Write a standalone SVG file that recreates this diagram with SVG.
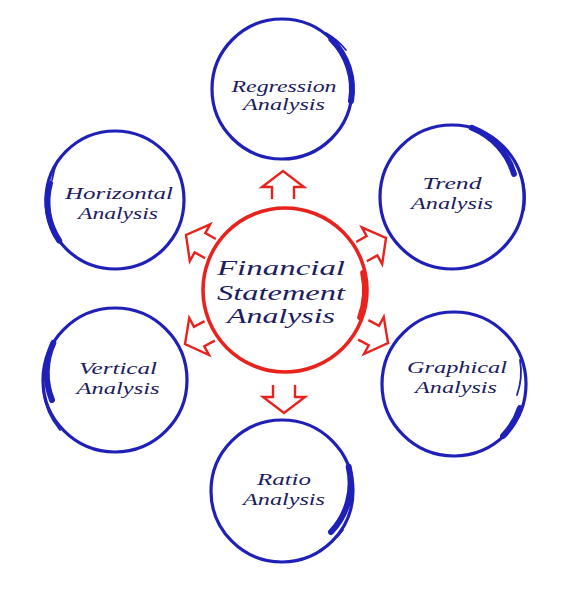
<svg xmlns="http://www.w3.org/2000/svg" width="580" height="600" viewBox="0 0 580 600">
<style>
.ring{fill:none;stroke:#1f20b8;stroke-width:3.2}
.tail{fill:none;stroke:#1f20b8;stroke-width:6;stroke-linecap:round}
.thin{fill:none;stroke:#1f20b8;stroke-width:1.8;stroke-linecap:round}
.red{fill:none;stroke:#e8221d;stroke-width:3.6}
.redtail{fill:none;stroke:#e8221d;stroke-width:6;stroke-linecap:round}
.arrow{fill:none;stroke:#e8221d;stroke-width:2.4;stroke-linejoin:miter}
.lbl{font-family:"Liberation Serif","DejaVu Serif",serif;font-style:italic;font-size:16px;fill:#1c1c5e;text-anchor:middle}
.big{font-family:"Liberation Serif","DejaVu Serif",serif;font-style:italic;font-size:22px;fill:#1c1c5e;text-anchor:middle}
</style>
<defs>
<path id="arr" d="M-11,28 L-11,16 L-21,16 L0,0 L21,16 L11,16 L11,28"/>
</defs>
<rect width="580" height="600" fill="#ffffff"/>

<g id="connectors">
<use href="#arr" class="arrow" transform="translate(283,171)"/>
<use href="#arr" class="arrow" transform="translate(284,413) rotate(180)"/>
<use href="#arr" class="arrow" transform="translate(186,235) rotate(-61)"/>
<use href="#arr" class="arrow" transform="translate(386,238) rotate(61)"/>
<use href="#arr" class="arrow" transform="translate(185,344) rotate(-118)"/>
<use href="#arr" class="arrow" transform="translate(388,343) rotate(118)"/>
</g>

<g id="center">
<circle class="red" cx="285" cy="290" r="82"/>
<path class="redtail" d="M363.2,273 A80,80 0 0 1 360.2,317.4"/>
<text class="big" x="281" y="275" textLength="128" lengthAdjust="spacingAndGlyphs">Financial</text>
<text class="big" x="281" y="300" textLength="128" lengthAdjust="spacingAndGlyphs">Statement</text>
<text class="big" x="281" y="323" textLength="108" lengthAdjust="spacingAndGlyphs">Analysis</text>
</g>

<g id="regression">
<circle class="ring" cx="282" cy="89" r="70"/>
<path class="tail" d="M331.5,39.5 A70,70 0 0 1 351,101"/>
<path class="thin" d="M326,33 A72,72 0 0 1 346,50"/>
<text class="lbl" x="284" y="92" textLength="105" lengthAdjust="spacingAndGlyphs">Regression</text>
<text class="lbl" x="284" y="110" textLength="82" lengthAdjust="spacingAndGlyphs">Analysis</text>
</g>

<g id="trend">
<circle class="ring" cx="452" cy="197" r="72"/>
<path class="tail" d="M471.8,127.8 A72,72 0 0 1 514,174"/>
<path class="thin" d="M516,163 A74,74 0 0 1 524,210"/>
<text class="lbl" x="452" y="189" textLength="59" lengthAdjust="spacingAndGlyphs">Trend</text>
<text class="lbl" x="452" y="209" textLength="82" lengthAdjust="spacingAndGlyphs">Analysis</text>
</g>

<g id="horizontal">
<circle class="ring" cx="115" cy="200" r="69"/>
<path class="tail" d="M59.2,240.6 A69,69 0 0 1 50,183.3"/>
<path class="thin" d="M52,180 A72,72 0 0 1 58,160"/>
<text class="lbl" x="119" y="199" textLength="108" lengthAdjust="spacingAndGlyphs">Horizontal</text>
<text class="lbl" x="118" y="219" textLength="80" lengthAdjust="spacingAndGlyphs">Analysis</text>
</g>

<g id="vertical">
<circle class="ring" cx="115" cy="380" r="72"/>
<path class="tail" d="M52,400 A72,72 0 0 1 53.3,342.9"/>
<path class="thin" d="M43,390 A75,75 0 0 0 60,430"/>
<text class="lbl" x="118" y="374" textLength="78" lengthAdjust="spacingAndGlyphs">Vertical</text>
<text class="lbl" x="118" y="394" textLength="83" lengthAdjust="spacingAndGlyphs">Analysis</text>
</g>

<g id="graphical">
<circle class="ring" cx="454" cy="384" r="72"/>
<path class="tail" d="M520,408 A72,72 0 0 1 503,436"/>
<path class="thin" d="M517,395 A70,70 0 0 0 520,360"/>
<text class="lbl" x="457" y="373" textLength="100" lengthAdjust="spacingAndGlyphs">Graphical</text>
<text class="lbl" x="456" y="393" textLength="82" lengthAdjust="spacingAndGlyphs">Analysis</text>
</g>

<g id="ratio">
<circle class="ring" cx="282" cy="491" r="71"/>
<path class="tail" d="M348.7,466.7 A71,71 0 0 1 331,532"/>
<path class="thin" d="M343,530 A74,74 0 0 1 320,550"/>
<text class="lbl" x="284" y="485" textLength="54" lengthAdjust="spacingAndGlyphs">Ratio</text>
<text class="lbl" x="284" y="505" textLength="82" lengthAdjust="spacingAndGlyphs">Analysis</text>
</g>
</svg>
